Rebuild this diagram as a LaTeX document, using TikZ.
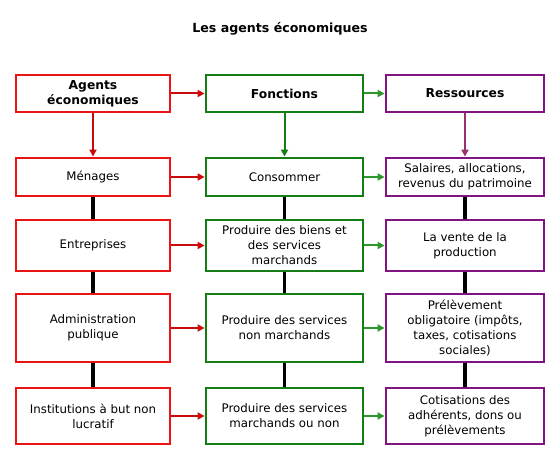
\documentclass[tikz,border=0pt]{standalone}
\usepackage{fontspec}
\setmainfont{DejaVu Sans}
\usepackage{xcolor}
\usepackage{tikz}
\usetikzlibrary{arrows.meta}
\definecolor{AgRed}{RGB}{235,20,20}
\definecolor{AgRedDark}{RGB}{200,10,10}
\definecolor{AgGreen}{RGB}{20,125,20}
\definecolor{AgGreenLight}{RGB}{45,150,45}
\definecolor{AgPurple}{RGB}{128,20,128}
\definecolor{AgMauve}{RGB}{150,50,110}

\begin{document}
\begin{tikzpicture}[x=1pt, y=-1pt,
          box/.style={rectangle, line width=2.8pt, fill=white, align=center,
                      inner sep=2pt, font=\fontsize{11.8}{15}\selectfont},
          rouge/.style={box, draw=AgRed, minimum width=154pt},
          vert/.style={box, draw=AgGreen, minimum width=157pt},
          violet/.style={box, draw=AgPurple, minimum width=158pt},
          head/.style={font=\fontsize{12.3}{15}\selectfont\bfseries},
          arr/.style={-{Triangle[length=7pt, width=7pt]}, line width=2pt},
          lien/.style={draw=black, line width=3.2pt}
        ]
        \useasboundingbox (0,0) rectangle (555,468);
        \node[font=\fontsize{12.6}{15}\selectfont\bfseries] (titre) at (280,29)
              {Les agents économiques};

        % en-tetes
        \node[rouge, head, minimum height=37pt]  (agents)     at (93,93.5)
              {Agents\\économiques};
        \node[vert, head, minimum height=37pt]   (fonctions)  at (284.5,93.5) {Fonctions};
        \node[violet, head, minimum height=37pt] (ressources) at (465,93.5) {Ressources};

        % agents
        \node[rouge, minimum height=38pt] (menages)  at (93,177) {Ménages};
        \node[rouge, minimum height=51pt] (entrepr)  at (93,245.5) {Entreprises};
        \node[rouge, minimum height=68pt] (admin)    at (93,328) {Administration\\publique};
        \node[rouge, minimum height=56pt] (isbl)     at (93,416) {Institutions à but non\\lucratif};

        % fonctions
        \node[vert, minimum height=38pt] (consommer) at (284.5,177) {Consommer};
        \node[vert, minimum height=51pt] (prodmarch) at (284.5,245.5)
              {Produire des biens et\\des services\\marchands};
        \node[vert, minimum height=68pt] (prodnon)   at (284.5,328)
              {Produire des services\\non marchands};
        \node[vert, minimum height=56pt] (prodou)    at (284.5,416)
              {Produire des services\\marchands ou non};

        % ressources
        \node[violet, minimum height=38pt] (salaires) at (465,177)
              {Salaires, allocations,\\revenus du patrimoine};
        \node[violet, minimum height=51pt] (vente)    at (465,245.5)
              {La vente de la\\production};
        \node[violet, minimum height=68pt] (prelev)   at (465,328)
              {Prélèvement\\obligatoire (impôts,\\taxes, cotisations\\sociales)};
        \node[violet, minimum height=56pt] (cotis)    at (465,416)
              {Cotisations des\\adhérents, dons ou\\prélèvements};

        % fleches vers le bas
        \draw[arr, draw=AgRedDark, fill=AgRedDark]       (agents)     -- (menages);
        \draw[arr, draw=AgGreen, fill=AgGreen]           (fonctions)  -- (consommer);
        \draw[arr, draw=AgMauve, fill=AgMauve]           (ressources) -- (salaires);

        % fleches horizontales
        \draw[arr, draw=AgRedDark, fill=AgRedDark]       (agents)    -- (fonctions);
        \draw[arr, draw=AgRedDark, fill=AgRedDark]       (menages)   -- (consommer);
        \draw[arr, draw=AgRedDark, fill=AgRedDark]       (entrepr)   -- (prodmarch);
        \draw[arr, draw=AgRedDark, fill=AgRedDark]       (admin)     -- (prodnon);
        \draw[arr, draw=AgRedDark, fill=AgRedDark]       (isbl)      -- (prodou);
        \draw[arr, draw=AgGreenLight, fill=AgGreenLight] (fonctions) -- (ressources);
        \draw[arr, draw=AgGreenLight, fill=AgGreenLight] (consommer) -- (salaires);
        \draw[arr, draw=AgGreenLight, fill=AgGreenLight] (prodmarch) -- (vente);
        \draw[arr, draw=AgGreenLight, fill=AgGreenLight] (prodnon)   -- (prelev);
        \draw[arr, draw=AgGreenLight, fill=AgGreenLight] (prodou)    -- (cotis);

        % liens verticaux
        \draw[lien] (menages)   -- (entrepr);
        \draw[lien] (entrepr)   -- (admin);
        \draw[lien] (admin)     -- (isbl);
        \draw[lien] (consommer) -- (prodmarch);
        \draw[lien] (prodmarch) -- (prodnon);
        \draw[lien] (prodnon)   -- (prodou);
        \draw[lien] (salaires)  -- (vente);
        \draw[lien] (vente)     -- (prelev);
        \draw[lien] (prelev)    -- (cotis);
      \end{tikzpicture}
\end{document}
